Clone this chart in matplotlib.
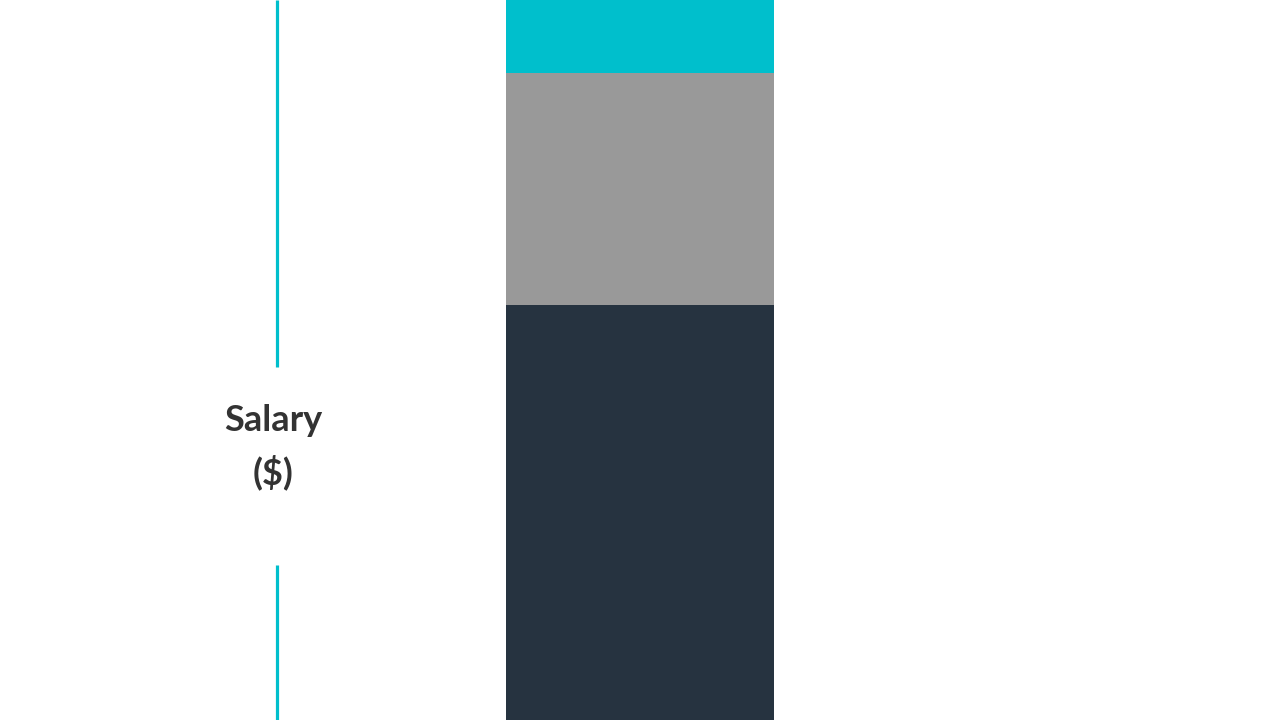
import matplotlib.pyplot as plt

# salary components, stacked bottom to top
categories = ['Salary']
base_pay = [83000]
bonus = [46400]
extras = [20000]

colors = ['#263340', '#999999', '#00BFCC']

fig = plt.figure(figsize=(12.8, 7.2), dpi=100)
ax = fig.add_axes([0, 0, 1, 1])

ax.bar(categories, base_pay, width=1, color=colors[0])
ax.bar(categories, bonus, width=1, bottom=base_pay, color=colors[1])
ax.bar(categories, extras, width=1,
       bottom=[a + b for a, b in zip(base_pay, bonus)], color=colors[2])

ax.set_xlim(-2.397, 2.397)
ax.set_ylim(0, 144000)
ax.axis('off')

# axis line with a gap for the label
ax.plot([0.2164, 0.2164], [0.49, 1.0], transform=ax.transAxes,
        color='#00BFCC', lw=2.3, solid_capstyle='butt', clip_on=False)
ax.plot([0.2164, 0.2164], [0.0, 0.215], transform=ax.transAxes,
        color='#00BFCC', lw=2.3, solid_capstyle='butt', clip_on=False)
ax.text(0.2135, 0.379, 'Salary\n($)', transform=ax.transAxes,
        ha='center', va='center', fontsize=26, color='#333333',
        family='Lato', fontweight='bold', linespacing=1.6)

plt.savefig('out.png', dpi=100)
